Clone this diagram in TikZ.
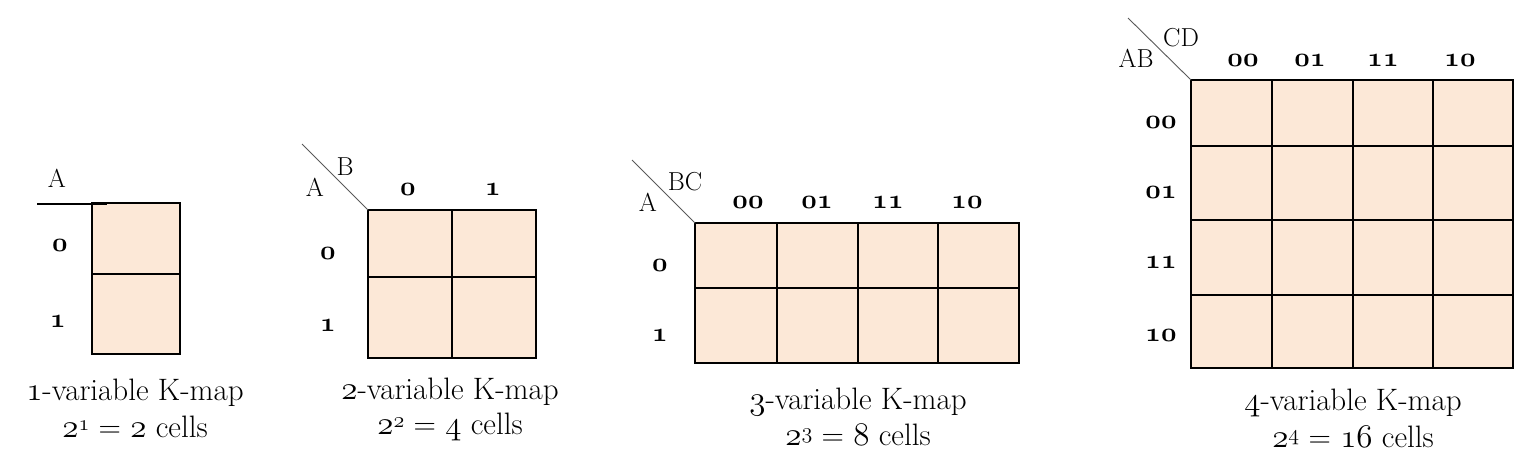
\documentclass[tikz,border=0pt]{standalone}
\definecolor{cellfill}{RGB}{252,232,215}
\font\numfont=cmmib10 at 27pt
\font\capnum=cmmi12 at 33pt
\font\supnum=cmmi12 at 22pt
\newcommand{\osn}[1]{{\capnum #1}}
\newcommand{\osb}[1]{{\numfont #1}}
\newcommand{\supdig}[1]{\raisebox{0.55ex}{\supnum #1}}
\tikzset{
	grid line/.style={line width=1.6pt, black},
	corner line/.style={line width=0.9pt, black!65},
	lbl/.style={inner sep=0pt, font=\fontsize{26}{28}\selectfont},
	num/.style={inner sep=0pt},
	caption/.style={inner sep=0pt, font=\fontsize{31}{34}\selectfont},
}
\begin{document}
\begin{tikzpicture}[x=1pt, y=-1pt]
	\useasboundingbox (0,0) rectangle (1536,458);

	% 1-variable
	\fill[cellfill] (92,203) rectangle (180,354);
	\draw[grid line] (92,203) rectangle (180,354);
	\draw[grid line] (92,274) -- (180,274);
	\draw[line width=1.2pt] (37,204) -- (107,204);
	\node[lbl] (one a) at (57,178) {A};
	\node[num] (one r0) at (60,245) {\osb{0}};
	\node[num] (one r1) at (58,321) {\osb{1}};
	\node[caption] (one cap) at (135,393) {\osn{1}-variable K-map};
	\node[caption] (one cells) at (135,427) {\osn{2}\supdig{1} = \osn{2} cells};

	% 2-variable
	\fill[cellfill] (368,210) rectangle (536,358);
	\draw[grid line] (368,210) rectangle (536,358);
	\draw[grid line] (452,210) -- (452,358);
	\draw[grid line] (368,277) -- (536,277);
	\draw[corner line] (302,144) -- (368,210);
	\node[lbl] (two b) at (345,167) {B};
	\node[lbl] (two a) at (315,187) {A};
	\node[num] (two c0) at (408,189) {\osb{0}};
	\node[num] (two c1) at (493,189) {\osb{1}};
	\node[num] (two r0) at (328,253) {\osb{0}};
	\node[num] (two r1) at (328,325) {\osb{1}};
	\node[caption] (two cap) at (450,392) {\osn{2}-variable K-map};
	\node[caption] (two cells) at (450,427) {\osn{2}\supdig{2} = \osn{4} cells};

	% 3-variable
	\fill[cellfill] (695,223) rectangle (1019,363);
	\draw[grid line] (695,223) rectangle (1019,363);
	\foreach \x in {777,858,938}
		\draw[grid line] (\x,223) -- (\x,363);
	\draw[grid line] (695,288) -- (1019,288);
	\draw[corner line] (632,160) -- (695,223);
	\node[lbl] (three bc) at (685,182) {BC};
	\node[lbl] (three a) at (648,202) {A};
	\node[num] (three c00) at (748,202) {\osb{00}};
	\node[num] (three c01) at (817,202) {\osb{01}};
	\node[num] (three c11) at (888,202) {\osb{11}};
	\node[num] (three c10) at (967,202) {\osb{10}};
	\node[num] (three r0) at (660,265) {\osb{0}};
	\node[num] (three r1) at (660,335) {\osb{1}};
	\node[caption] (three cap) at (858,402) {\osn{3}-variable K-map};
	\node[caption] (three cells) at (858,435) {\osn{2}\supdig{3} = \osn{8} cells};

	% 4-variable
	\fill[cellfill] (1191,80) rectangle (1513,368);
	\draw[grid line] (1191,80) rectangle (1513,368);
	\foreach \x in {1272,1353,1433}
		\draw[grid line] (\x,80) -- (\x,368);
	\foreach \y in {146,220,295}
		\draw[grid line] (1191,\y) -- (1513,\y);
	\draw[corner line] (1128,18) -- (1191,80);
	\node[lbl] (four cd) at (1181,38) {CD};
	\node[lbl] (four ab) at (1136,58) {AB};
	\node[num] (four c00) at (1243,60) {\osb{00}};
	\node[num] (four c01) at (1310,60) {\osb{01}};
	\node[num] (four c11) at (1383,60) {\osb{11}};
	\node[num] (four c10) at (1460,60) {\osb{10}};
	\node[num] (four r00) at (1161,122) {\osb{00}};
	\node[num] (four r01) at (1161,192) {\osb{01}};
	\node[num] (four r11) at (1161,262) {\osb{11}};
	\node[num] (four r10) at (1161,335) {\osb{10}};
	\node[caption] (four cap) at (1353,403) {\osn{4}-variable K-map};
	\node[caption] (four cells) at (1353,437) {\osn{2}\supdig{4} = \osn{16} cells};
\end{tikzpicture}
\end{document}
